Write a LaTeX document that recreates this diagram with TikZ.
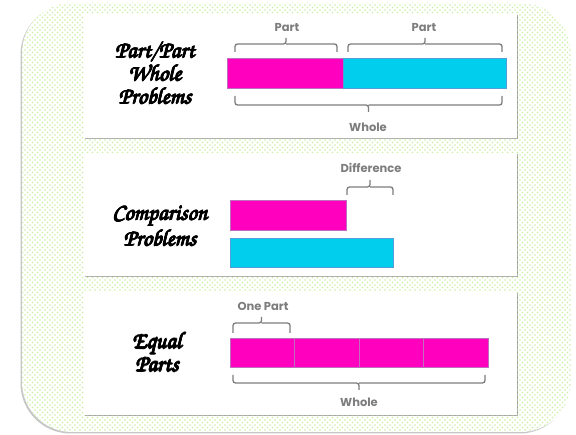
\documentclass[tikz,border=0pt]{standalone}
\usepackage[T1,TU]{fontenc}
\usepackage{fontspec}
\usetikzlibrary{patterns}
\usetikzlibrary{shadows}
\newfontfamily\labelfont{Poppins}
\newcommand\handfont{\fontencoding{T1}\fontfamily{pzc}\fontseries{m}\fontshape{it}\selectfont}
\definecolor{barpink}{RGB}{255,0,190}
\definecolor{barcyan}{RGB}{0,206,236}
\definecolor{pinkedge}{RGB}{190,110,190}
\definecolor{cyanedge}{RGB}{80,160,215}
\definecolor{dotgreen}{RGB}{200,242,160}
\definecolor{bracegray}{RGB}{125,125,125}
\pgfdeclarepatternformonly{green dots}{\pgfqpoint{-1pt}{-1pt}}{\pgfqpoint{4pt}{4pt}}{\pgfqpoint{5pt}{5pt}}{
  \pgfpathcircle{\pgfqpoint{0pt}{0pt}}{0.95pt}
  \pgfpathcircle{\pgfqpoint{2.5pt}{2.5pt}}{0.95pt}
  \pgfusepath{fill}}
% thick hand lettering
\newcommand\ttl[1]{\leavevmode\rlap{\raisebox{0.55pt}{#1}}\rlap{\raisebox{-0.55pt}{#1}}\rlap{\hspace{0.55pt}#1}\rlap{\hspace{-0.55pt}#1}\rlap{\hspace{0.4pt}\raisebox{0.4pt}{#1}}\rlap{\hspace{-0.4pt}\raisebox{-0.4pt}{#1}}#1}
\newcommand\barbrace[5]{
  \draw[bracestyle] (#1,#3) -- (#1,#4) -- ({(#1+#2)/2},#4) -- ({(#1+#2)/2},#5) ({(#1+#2)/2},#4) -- (#2,#4) -- (#2,#3);
}
\tikzset{
  panel/.style={fill=white, drop shadow={shadow xshift=0.8pt, shadow yshift=-1.3pt, fill=black, opacity=0.3}},
  pinkbar/.style={fill=barpink, draw=pinkedge, line width=0.7pt},
  cyanbar/.style={fill=barcyan, draw=cyanedge, line width=0.7pt},
  bracestyle/.style={draw=bracegray, line width=1.3pt, rounded corners=2.5pt},
  label/.style={text=bracegray, font=\labelfont\bfseries\fontsize{11.5}{13}\selectfont},
  title/.style={align=center, font=\handfont\fontsize{23}{23}\selectfont}
}
\begin{document}
\begin{tikzpicture}[x=1pt,y=-1pt]
\useasboundingbox (0,0) rectangle (576,435);

% background card
\fill[black!22, rounded corners=50] (20.5,4.5) rectangle (569.5,433.5);
\fill[white, rounded corners=50] (22,3) rectangle (571,432);
\fill[pattern=green dots, pattern color=dotgreen, rounded corners=50] (22,3) rectangle (571,432);

\fill[panel] (84,14) rectangle (517,138);
\fill[panel] (84,153) rectangle (517,276);
\fill[panel] (84,292) rectangle (517,415);

% part/part whole
\node[title] (pwtitle) at (155,74) {\ttl{Part/Part}\\\ttl{Whole}\\\ttl{Problems}};
\draw[pinkbar] (227,58) rectangle (343,88);
\draw[cyanbar] (343,58) rectangle (506,88);
\barbrace{235}{337}{52}{44}{38};
\barbrace{348}{502}{52}{44}{38};
\barbrace{235}{502}{96}{105}{112};
\node[label] (part1) at (287,28) {Part};
\node[label] (part2) at (424,28) {Part};
\node[label] (whole1) at (368,127) {Whole};

% comparison
\node[title] (cptitle) at (160,226) {\ttl{Comparison}\\\ttl{Problems}};
\draw[pinkbar] (230,200) rectangle (346,230);
\draw[cyanbar] (230,238) rectangle (393,267);
\barbrace{347}{393}{195}{187}{180};
\node[label] (diff) at (371,168) {Difference};

% equal parts
\node[title] (eqtitle) at (157,352) {\ttl{Equal}\\\ttl{Parts}};
\foreach \i in {0,1,2,3}
  \draw[pinkbar] ({230+64.5*\i},338) rectangle ({230+64.5*(\i+1)},367);
\barbrace{233}{290}{333}{323}{317};
\barbrace{233}{485}{375}{383}{390};
\node[label] (onepart) at (263,306) {One Part};
\node[label] (whole2) at (359,402) {Whole};

\end{tikzpicture}
\end{document}
